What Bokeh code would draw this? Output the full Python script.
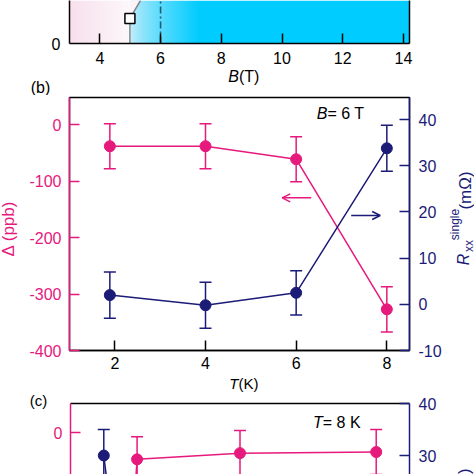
import numpy as np
from bokeh.plotting import figure
from bokeh.layouts import column, row
from bokeh.models import Range1d, LinearAxis, FixedTicker, Label, Arrow, OpenHead, NumeralTickFormatter
from bokeh.embed import file_html
from bokeh.resources import INLINE

# ---------------- data ----------------
# panel (a): phase boundary (only lowest part visible)
a_boundary_B = [4.99, 4.99, 5.34]
a_boundary_T = [0.0, 2.33, 4.0]
a_square_B = [4.99]
a_square_T = [2.33]
a_dash_B = [6.0]
a_xticks = [4, 6, 8, 10, 12, 14]
a_yticks = [0]

# panel (b): B = 6 T
b_T = [1.89, 4, 6, 8]
b_delta = [-38, -38, -61, -327]
b_delta_err = [40, 40, 40, 40]
b_R = [2.0, -0.2, 2.5, 33.8]
b_R_err = [5.0, 5.0, 4.8, 5.0]
b_xticks = [2, 4, 6, 8]
b_left_ticks = [0, -100, -200, -300, -400]
b_right_ticks = [40, 30, 20, 10, 0, -10]

# panel (c): T = 8 K (top part only)
c_B_delta = [4.9, 5.2, 8.6, 13.1]
c_delta = [-290, -47, -36, -34]
c_delta_err = [40, 40, 40, 40]
c_B_R = [4.1, 4.6]
c_R = [30, 6]
c_R_err = [5, 5]
c_left_ticks = [0]
c_right_ticks = [40, 30]

# ---------------- style ----------------
PINK = "#E6197D"
NAVY = "#1B1B78"
FONT = "Liberation Sans"
FS = "16px"
FL, FR = 69, 409          # frame left / right on the page


def px2x(px, xr):
    return xr[0] + (px - FL) / (FR - FL) * (xr[1] - xr[0])


def py2y(py, ft, fb, yr):
    return yr[1] - (py - ft) / (fb - ft) * (yr[1] - yr[0])


def make_fig(w, h, left, right, top, bottom, xr, yr):
    p = figure(width=w, height=h, x_range=Range1d(*xr), y_range=Range1d(*yr),
               output_backend="svg", toolbar_location=None,
               min_border_left=left, min_border_right=right,
               min_border_top=top, min_border_bottom=bottom,
               x_axis_type=None, y_axis_type=None)
    p.frame_align = False
    p.outline_line_color = None
    p.background_fill_color = "white"
    p.border_fill_color = "white"
    return p


def strip(w, h):
    # text-only area; range = local pixels (y downward)
    s = figure(width=w, height=h, x_range=Range1d(0, w), y_range=Range1d(h, 0),
               output_backend="svg", toolbar_location=None, min_border=0,
               x_axis_type=None, y_axis_type=None)
    s.frame_align = False
    s.outline_line_color = None
    s.background_fill_color = "white"
    s.border_fill_color = "white"
    return s


def axis(color, ticks, tick_in=10, labels=True, range_name=None, standoff=9):
    ax = LinearAxis(ticker=FixedTicker(ticks=ticks),
                    formatter=NumeralTickFormatter(format="0"),
                    axis_line_color=color, axis_line_width=1.5,
                    major_tick_line_color=color, major_tick_line_width=1.5,
                    major_tick_in=tick_in, major_tick_out=0,
                    minor_tick_line_color=None,
                    major_label_text_color=color if labels else None,
                    major_label_text_font=FONT,
                    major_label_text_font_size=FS,
                    major_label_standoff=standoff)
    if range_name:
        ax.y_range_name = range_name
    return ax


def label(p, x, y, text, color="black", size=FS, style="normal",
          align="center", angle=0.0, baseline="middle"):
    p.add_layout(Label(x=x, y=y, text=text, text_color=color, text_font=FONT,
                       text_font_size=size, text_font_style=style,
                       text_align=align, text_baseline=baseline, angle=angle))


# ================= panel (a)  (page y 0-69) =================
XA = (3.0, 14.2)
YA = (0.0, 4.0)
p1 = make_fig(474, 69, FL, 474 - FR, 0, 26, XA, YA)

N = 448
Bc = np.linspace(XA[0], XA[1], N)
pink_l = np.array([248, 224, 236], float)
pink_r = np.array([253, 248, 251], float)
blue_l = np.array([200, 238, 250], float)
cyan = np.array([0, 204, 255], float)
cols = np.zeros((N, 3))
for i, B in enumerate(Bc):
    if B < a_boundary_B[0]:
        t = (B - XA[0]) / (a_boundary_B[0] - XA[0])
        cols[i] = pink_l + (pink_r - pink_l) * t
    else:
        t = min(max((B - a_boundary_B[0]) / 2.3, 0.0), 1.0) ** 0.75
        cols[i] = blue_l + (cyan - blue_l) * t
img = np.empty((1, N), dtype=np.uint32)
view = img.view(dtype=np.uint8).reshape((1, N, 4))
view[0, :, 0] = cols[:, 0].astype(np.uint8)
view[0, :, 1] = cols[:, 1].astype(np.uint8)
view[0, :, 2] = cols[:, 2].astype(np.uint8)
view[0, :, 3] = 255
p1.image_rgba(image=[img], x=XA[0], y=YA[0], dw=XA[1] - XA[0], dh=YA[1] - YA[0])
p1.patch([a_boundary_B[1], a_boundary_B[2], a_boundary_B[1]],
         [a_boundary_T[1], a_boundary_T[2], a_boundary_T[2]],
         fill_color="#fcf4f8", line_color=None)
p1.line(a_boundary_B, a_boundary_T, line_color="#7f8a8c", line_width=1.5)
p1.segment(x0=a_dash_B, y0=[YA[0]], x1=a_dash_B, y1=[YA[1]],
           line_color="#1a5f78", line_width=1.6, line_dash="7 3 2 3")
p1.scatter(a_square_B, a_square_T, marker="square", size=10,
           fill_color="white", line_color="black", line_width=1.5)

p1.add_layout(axis("black", a_xticks, standoff=8), "below")
p1.add_layout(axis("black", a_yticks, tick_in=0), "left")
p1.add_layout(axis("black", [], tick_in=0, labels=False), "right")

# strip between (a) and (b): page y 69-95
s1 = strip(474, 26)
label(s1, 238.5, 7, "B", style="italic", align="right")
label(s1, 238.5, 7, "(T)", align="left")
label(s1, 40, 18, "(b)")

# ================= panel (b)  (page y 95-374) =================
XB = (1.0, 8.5)
YBL = (-400.0, 48.4)
YBR = (-10.0, 44.8)
FT2, FB2 = 97, 350
p2 = make_fig(423, 279, 47, 36, 2, 24, XB, YBL)
p2.outline_line_color = "black"
p2.outline_line_width = 1.5
p2.extra_y_ranges = {"r": Range1d(*YBR)}

p2.add_layout(axis("black", b_xticks, standoff=6), "below")
p2.add_layout(axis(PINK, b_left_ticks, standoff=8), "left")
p2.add_layout(axis(NAVY, b_right_ticks, range_name="r"), "right")

# pink series
d_hi = [v + e for v, e in zip(b_delta, b_delta_err)]
d_lo = [v - e for v, e in zip(b_delta, b_delta_err)]
p2.line(b_T, b_delta, line_color=PINK, line_width=1.5)
p2.segment(x0=b_T, y0=d_lo, x1=b_T, y1=d_hi, line_color=PINK, line_width=1.5)
p2.scatter(b_T, d_hi, marker="dash", size=12, line_color=PINK, line_width=1.5)
p2.scatter(b_T, d_lo, marker="dash", size=12, line_color=PINK, line_width=1.5)
p2.scatter(b_T, b_delta, marker="circle", size=11, fill_color=PINK, line_color=PINK)

# navy series
r_hi = [v + e for v, e in zip(b_R, b_R_err)]
r_lo = [v - e for v, e in zip(b_R, b_R_err)]
p2.line(b_T, b_R, line_color=NAVY, line_width=1.5, y_range_name="r")
p2.segment(x0=b_T, y0=r_lo, x1=b_T, y1=r_hi, line_color=NAVY, line_width=1.5, y_range_name="r")
p2.scatter(b_T, r_hi, marker="dash", size=12, line_color=NAVY, line_width=1.5, y_range_name="r")
p2.scatter(b_T, r_lo, marker="dash", size=12, line_color=NAVY, line_width=1.5, y_range_name="r")
p2.scatter(b_T, b_R, marker="circle", size=11, fill_color=NAVY, line_color=NAVY, y_range_name="r")

# arrows (positions in page pixels)
ya = py2y(197.3, FT2, FB2, YBL)
p2.add_layout(Arrow(end=OpenHead(size=8, line_color=PINK, line_width=1.5),
                    x_start=px2x(310.7, XB), y_start=ya, x_end=px2x(281.7, XB), y_end=ya,
                    line_color=PINK, line_width=1.5))
yb = py2y(215.0, FT2, FB2, YBL)
p2.add_layout(Arrow(end=OpenHead(size=8, line_color=NAVY, line_width=1.5),
                    x_start=px2x(350.7, XB), y_start=yb, x_end=px2x(379.7, XB), y_end=yb,
                    line_color=NAVY, line_width=1.5))

label(p2, px2x(327, XB), py2y(113, FT2, FB2, YBL), "B", style="italic", align="right")
label(p2, px2x(327, XB), py2y(113, FT2, FB2, YBL), "= 6 T", align="left")

# side strips of (b)
sL2 = strip(22, 279)
label(sL2, 8, 133, "Δ (ppb)", color=PINK, size="17px", angle=np.pi / 2)
sR2 = strip(29, 279)
label(sR2, 18, 164, "R", color=NAVY, size="16px", style="italic", angle=np.pi / 2)
label(sR2, 23, 150.5, "xx", color=NAVY, size="12px", angle=np.pi / 2)
label(sR2, 9, 129, "single", color=NAVY, size="12px", angle=np.pi / 2)
label(sR2, 20, 95, "(mΩ)", color=NAVY, size="17px", angle=np.pi / 2)

# strip between (b) and (c): page y 374-392
s2 = strip(474, 18)
label(s2, 238, 8.5, "T", size="15px", style="italic", align="right")
label(s2, 238, 8.5, " (K)", size="15px", align="left")

# ================= panel (c)  (page y 392-474) =================
XC = (3.0, 14.2)
YCL = (-73.9, 52.0)
YCR = (26.35, 40.0)
FT3, FB3 = 403, 474
p3 = make_fig(395, 82, 19, 36, 11, 0, XC, YCL)
p3.extra_y_ranges = {"r": Range1d(*YCR)}

p3.add_layout(axis("black", [], tick_in=0, labels=False), "above")
p3.add_layout(axis(PINK, c_left_ticks, standoff=8), "left")
p3.add_layout(axis(NAVY, c_right_ticks, range_name="r"), "right")

cd_hi = [v + e for v, e in zip(c_delta, c_delta_err)]
cd_lo = [v - e for v, e in zip(c_delta, c_delta_err)]
p3.line(c_B_delta, c_delta, line_color=PINK, line_width=1.5)
p3.segment(x0=c_B_delta, y0=cd_lo, x1=c_B_delta, y1=cd_hi, line_color=PINK, line_width=1.5)
p3.scatter(c_B_delta, cd_hi, marker="dash", size=12, line_color=PINK, line_width=1.5)
p3.scatter(c_B_delta, cd_lo, marker="dash", size=12, line_color=PINK, line_width=1.5)
p3.scatter(c_B_delta, c_delta, marker="circle", size=11, fill_color=PINK, line_color=PINK)

cr_hi = [v + e for v, e in zip(c_R, c_R_err)]
cr_lo = [v - e for v, e in zip(c_R, c_R_err)]
p3.line(c_B_R, c_R, line_color=NAVY, line_width=1.5, y_range_name="r")
p3.segment(x0=c_B_R, y0=cr_lo, x1=c_B_R, y1=cr_hi, line_color=NAVY, line_width=1.5, y_range_name="r")
p3.scatter(c_B_R, cr_hi, marker="dash", size=12, line_color=NAVY, line_width=1.5, y_range_name="r")
p3.scatter(c_B_R, cr_lo, marker="dash", size=12, line_color=NAVY, line_width=1.5, y_range_name="r")
p3.scatter(c_B_R, c_R, marker="circle", size=11, fill_color=NAVY, line_color=NAVY, y_range_name="r")

label(p3, px2x(322, XC), py2y(421.7, FT3, FB3, YCL), "T", style="italic", align="right")
label(p3, px2x(322, XC), py2y(421.7, FT3, FB3, YCL), "= 8 K", align="left")

sL3 = strip(50, 82)
label(sL3, 38, 7.8, "(c)", size="15px")
sR3 = strip(29, 82)
label(sR3, 19, 95, "(mΩ)", color=NAVY, size="17px", angle=np.pi / 2)

layout = column(
    p1,
    s1,
    row(sL2, p2, sR2, spacing=0),
    s2,
    row(sL3, p3, sR3, spacing=0),
    spacing=0,
)
open("out.html", "w").write(file_html(layout, INLINE))
